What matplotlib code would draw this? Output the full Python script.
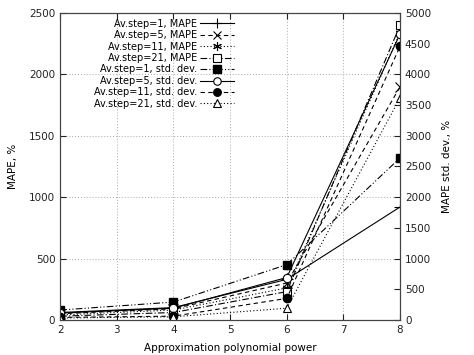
import matplotlib.pyplot as plt

power = [2, 4, 6, 8]

# MAPE, % (left axis)
mape_1 = [60, 100, 330, 920]
mape_5 = [50, 90, 300, 1900]
mape_11 = [40, 80, 260, 2340]
mape_21 = [30, 60, 230, 2400]

# MAPE std. dev., % (right axis)
std_1 = [160, 290, 900, 2640]
std_5 = [110, 190, 690, 4660]
std_11 = [40, 60, 350, 4460]
std_21 = [30, 50, 190, 3620]

plt.rcParams['font.family'] = 'DejaVu Sans'
plt.rcParams['font.size'] = 7.5

fig = plt.figure(figsize=(4.74, 3.55), dpi=100)
ax = fig.add_axes([0.127, 0.099, 0.717, 0.864])
ax2 = ax.twinx()

lw = 0.8
ms = 6
dashdotdot = (0, (6, 2, 1, 2, 1, 2))

h = []
h += ax.plot(power, mape_1, color='k', lw=lw, ls='-', marker='+', ms=ms + 2, mew=0.8,
             label='Av.step=1, MAPE')
h += ax.plot(power, mape_5, color='k', lw=lw, ls=(0, (4, 3)), marker='x', ms=ms + 1, mew=0.8,
             label='Av.step=5, MAPE')
h += ax.plot(power, mape_11, color='k', lw=lw, ls=(0, (1, 2)), marker=(6, 2, 0), ms=ms + 1, mew=0.8,
             label='Av.step=11, MAPE')
h += ax.plot(power, mape_21, color='k', lw=lw, ls=(0, (6, 2, 1, 2)), marker='s', ms=ms,
             mfc='white', mew=0.8, label='Av.step=21, MAPE')
h += ax2.plot(power, std_1, color='k', lw=lw, ls=dashdotdot, marker='s', ms=ms,
              label='Av.step=1, std. dev.')
h += ax2.plot(power, std_5, color='k', lw=lw, ls='-', marker='o', ms=ms, mfc='white', mew=0.8,
              label='Av.step=5, std. dev.')
h += ax2.plot(power, std_11, color='k', lw=lw, ls=(0, (4, 3)), marker='o', ms=ms,
              label='Av.step=11, std. dev.')
h += ax2.plot(power, std_21, color='k', lw=lw, ls=(0, (1, 2)), marker='^', ms=ms, mfc='white',
              mew=0.8, label='Av.step=21, std. dev.')

ax.set_xlim(2, 8)
ax.set_ylim(0, 2500)
ax2.set_ylim(0, 5000)
ax.set_xticks(range(2, 9))
ax.set_yticks(range(0, 2501, 500))
ax2.set_yticks(range(0, 5001, 500))

ax.grid(True, color='#aaaaaa', ls=(0, (1, 2)), lw=0.7)
ax.tick_params(direction='in', length=4, top=True, colors='#222222')
ax2.tick_params(direction='in', length=4, colors='#222222')
for a in (ax, ax2):
    for s in a.spines.values():
        s.set_color('#444444')
        s.set_linewidth(0.8)

ax.set_xlabel('Approximation polynomial power', labelpad=6)
ax.set_ylabel('MAPE, %', labelpad=8)
ax2.set_ylabel('MAPE std. dev., %', labelpad=8)

ax.legend(handles=h, loc='upper right', bbox_to_anchor=(0.51, 0.982), frameon=False,
          markerfirst=False, handlelength=3.4, labelspacing=0.15, borderpad=0,
          borderaxespad=0, handletextpad=0.35, fontsize=7, markerscale=0.9)

fig.savefig('out.png', dpi=100)
